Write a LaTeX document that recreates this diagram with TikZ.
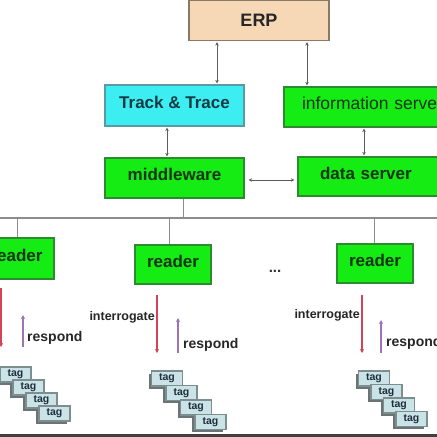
\documentclass[tikz,border=0pt]{standalone}
\usepackage{fontspec}
\setmainfont{Liberation Sans}
\usetikzlibrary{arrows.meta,shadows}
\definecolor{erpfill}{HTML}{F6D8B6}
\definecolor{erpdraw}{HTML}{8A7868}
\definecolor{trackfill}{HTML}{3CEEF2}
\definecolor{trackdraw}{HTML}{5A9AA6}
\definecolor{trackText}{HTML}{123A44}
\definecolor{grfill}{HTML}{14EC14}
\definecolor{grdraw}{HTML}{2E8A2E}
\definecolor{grtext}{HTML}{143414}
\definecolor{linegray}{HTML}{5C5C5C}
\definecolor{busgray}{HTML}{8C8C8C}
\definecolor{interred}{HTML}{D24458}
\definecolor{resppurple}{HTML}{9C74B4}
\definecolor{tagfill}{HTML}{C9E3E6}
\definecolor{tagdraw}{HTML}{7E8E90}
\definecolor{tagshade}{HTML}{6A7474}
\definecolor{tagtext}{HTML}{1E2E3C}
\definecolor{bottomline}{HTML}{404040}
\tikzset{
  boxbase/.style={draw, line width=1.2pt, inner sep=0pt, text height=12pt, text depth=7pt,
    font=\bfseries\fontsize{17}{20}\selectfont},
  erpbox/.style={boxbase, fill=erpfill, draw=erpdraw, text=black!85, text height=12pt, text depth=0pt, font=\bfseries\fontsize{18}{20}\selectfont},
  trackbox/.style={boxbase, fill=trackfill, draw=trackdraw, text=trackText},
  greenbox/.style={boxbase, fill=grfill, draw=grdraw, text=grtext},
  biarrow/.style={linegray, line width=0.9pt, {Stealth[length=3.5pt,width=3.5pt]}-{Stealth[length=3.5pt,width=3.5pt]}, shorten <=1pt, shorten >=1pt},
  busline/.style={busgray, line width=1.6pt},
  dropline/.style={busgray, line width=1pt},
  interarrow/.style={interred, line width=1.3pt, -{Stealth[length=4pt,width=4pt]}},
  resparrow/.style={resppurple, line width=2pt, -{Stealth[length=4pt,width=4pt]}},
  lbl/.style={inner sep=0pt, text=black!85, font=\bfseries\fontsize{13}{15}\selectfont},
  tagbox/.style={draw=tagdraw, fill=tagfill, line width=1.4pt, minimum width=31pt, minimum height=15pt,
    inner sep=0pt, text=tagtext, font=\bfseries\fontsize{10.5}{10.5}\selectfont,
    general shadow={fill=tagshade, shadow xshift=-3pt, shadow yshift=-2.5pt}},
}
\begin{document}
\begin{tikzpicture}[x=1pt,y=-1pt]
\useasboundingbox (0,0) rectangle (437,437);
\clip (0,0) rectangle (437,437);
\fill[white] (0,0) rectangle (437,437);

% boxes
\node[erpbox, minimum width=140pt, minimum height=40pt] (erp) at (259,20.5) {ERP};
\node[trackbox, minimum width=139pt, minimum height=41pt] (track) at (174.5,105.5) {Track \& Trace};
\node[greenbox, minimum height=40pt, text width=170pt, inner xsep=18pt, align=left,
      font=\fontsize{17.5}{20}\selectfont] (info) at (387,107) {information server};
\node[greenbox, minimum width=139pt, minimum height=40pt] (mw) at (174.5,178) {middleware};
\node[greenbox, minimum height=39pt, text width=103pt, inner xsep=22pt, align=left] (data) at (371.5,176.5) {data server};

% readers
\node[greenbox, minimum width=75pt, minimum height=41pt] (r1) at (16.5,258.5) {reader};
\node[greenbox, minimum width=76pt, minimum height=39pt] (r2) at (173,264.5) {reader};
\node[greenbox, minimum width=76pt, minimum height=39pt] (r3) at (375,263.5) {reader};
\node[font=\bfseries\fontsize{15}{15}\selectfont, text=black!80, inner sep=0pt] (dots) at (275,271) {...};

% top connectors
\coordinate (a1) at (217,0);
\coordinate (a2) at (307,0);
\coordinate (a3) at (167,0);
\coordinate (a4) at (364,0);
\coordinate (a5) at (0,180);
\draw[biarrow] (erp.south -| a1) -- (track.north -| a1);
\draw[biarrow] (erp.south -| a2) -- (info.north -| a2);
\draw[biarrow] (track.south -| a3) -- (mw.north -| a3);
\draw[biarrow] (info.south -| a4) -- (data.north -| a4);
\draw[biarrow, shorten <=4pt, shorten >=3pt] (mw.east |- a5) -- (data.west |- a5);

% bus
\coordinate (busW) at (-5,218);
\coordinate (busE) at (445,218);
\coordinate (bm) at (183,218);
\coordinate (b1) at (17,218);
\coordinate (b2) at (169,218);
\coordinate (b3) at (374,218);
\draw[busline] (busW) -- (busE);
\draw[dropline] (mw.south -| bm) -- (bm);
\draw[dropline] (b1) -- (r1.north -| b1);
\draw[dropline] (b2) -- (r2.north -| b2);
\draw[dropline] (b3) -- (r3.north -| b3);

% interrogate / respond
\coordinate (i1s) at (1,288);   \coordinate (i1e) at (1,347);
\coordinate (p1s) at (23,347);  \coordinate (p1e) at (23,315);
\coordinate (i2s) at (157,295); \coordinate (i2e) at (157,353);
\coordinate (p2s) at (178,353); \coordinate (p2e) at (178,318);
\coordinate (i3s) at (362,295); \coordinate (i3e) at (362,353);
\coordinate (p3s) at (381,353); \coordinate (p3e) at (381,320);
\draw[interarrow] (i1s) -- (i1e);
\draw[resparrow] (p1s) -- (p1e);
\draw[interarrow] (i2s) -- (i2e);
\draw[resparrow] (p2s) -- (p2e);
\draw[interarrow] (i3s) -- (i3e);
\draw[resparrow] (p3s) -- (p3e);

\node[lbl, anchor=west, font=\bfseries\fontsize{14}{15}\selectfont] (resp1) at (27,338) {respond};
\node[lbl, anchor=east, font=\bfseries\fontsize{12.5}{15}\selectfont] (int2) at (155,317) {interrogate};
\node[lbl, anchor=west, font=\bfseries\fontsize{14}{15}\selectfont] (resp2) at (183,345) {respond};
\node[lbl, anchor=east, font=\bfseries\fontsize{12.5}{15}\selectfont] (int3) at (360,315) {interrogate};
\node[lbl, anchor=west, font=\bfseries\fontsize{14}{15}\selectfont] (resp3) at (386,343) {respond};

% tags
\node[tagbox] (t11) at (15.5,374.5) {tag};
\node[tagbox] (t12) at (28.5,387.5) {tag};
\node[tagbox] (t13) at (41.5,400.5) {tag};
\node[tagbox] (t14) at (54.5,413.5) {tag};
\node[tagbox] (t21) at (167,378.5) {tag};
\node[tagbox] (t22) at (181.5,393) {tag};
\node[tagbox] (t23) at (196,407.5) {tag};
\node[tagbox] (t24) at (210.5,422) {tag};
\node[tagbox] (t31) at (374,378.5) {tag};
\node[tagbox] (t32) at (386.5,392) {tag};
\node[tagbox] (t33) at (399,405.5) {tag};
\node[tagbox] (t34) at (411.5,419) {tag};

% bottom edge
\coordinate (bl) at (-5,435.5);
\coordinate (br) at (445,435.5);
\draw[bottomline, line width=3pt] (bl) -- (br);
\end{tikzpicture}
\end{document}
